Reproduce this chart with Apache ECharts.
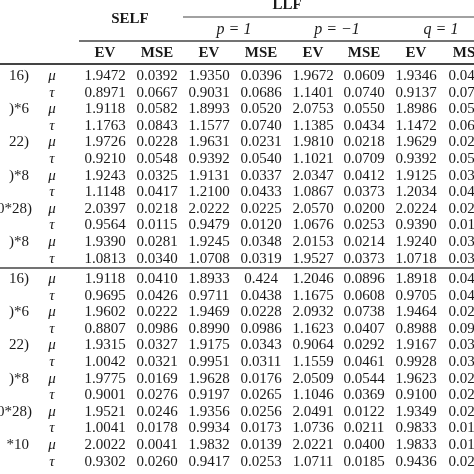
<!DOCTYPE html>
<html>
<head>
<meta charset="utf-8">
<script src="https://cdn.jsdelivr.net/npm/echarts@6/dist/echarts.min.js"></script>
<style>html,body{margin:0;padding:0;background:#fff}#chart{width:474px;height:474px}</style>
</head>
<body>
<div id="chart"></div>
<script>
// 数据
var schemes = ['16)', ')*6', '22)', ')*8', '1.0*28)', ')*8',
               '16)', ')*6', '22)', ')*8', '1.0*28)', '*10'];
var params = ['μ', 'τ'];
var colHeads = ['EV', 'MSE', 'EV', 'MSE', 'EV', 'MSE', 'EV', 'MSE'];
var lossHeads = ['p = 1', 'p = −1', 'q = 1'];
var selfEV = ['1.9472','0.8971','1.9118','1.1763','1.9726','0.9210','1.9243','1.1148','2.0397','0.9564','1.9390','1.0813',
              '1.9118','0.9695','1.9602','0.8807','1.9315','1.0042','1.9775','0.9001','1.9521','1.0041','2.0022','0.9302'];
var selfMSE = ['0.0392','0.0667','0.0582','0.0843','0.0228','0.0548','0.0325','0.0417','0.0218','0.0115','0.0281','0.0340',
               '0.0410','0.0426','0.0222','0.0986','0.0327','0.0321','0.0169','0.0276','0.0246','0.0178','0.0041','0.0260'];
var p1EV = ['1.9350','0.9031','1.8993','1.1577','1.9631','0.9392','1.9131','1.2100','2.0222','0.9479','1.9245','1.0708',
            '1.8933','0.9711','1.9469','0.8990','1.9175','0.9951','1.9628','0.9197','1.9356','0.9934','1.9832','0.9417'];
var p1MSE = ['0.0396','0.0686','0.0520','0.0740','0.0231','0.0540','0.0337','0.0433','0.0225','0.0120','0.0348','0.0319',
             '0.424','0.0438','0.0228','0.0986','0.0343','0.0311','0.0176','0.0265','0.0256','0.0173','0.0139','0.0253'];
var pm1EV = ['1.9672','1.1401','2.0753','1.1385','1.9810','1.1021','2.0347','1.0867','2.0570','1.0676','2.0153','1.9527',
             '1.2046','1.1675','2.0932','1.1623','0.9064','1.1559','2.0509','1.1046','2.0491','1.0736','2.0221','1.0711'];
var pm1MSE = ['0.0609','0.0740','0.0550','0.0434','0.0218','0.0709','0.0412','0.0373','0.0200','0.0253','0.0214','0.0373',
              '0.0896','0.0608','0.0738','0.0407','0.0292','0.0461','0.0544','0.0369','0.0122','0.0211','0.0400','0.0185'];
var q1EV = ['1.9346','0.9137','1.8986','1.1472','1.9629','0.9392','1.9125','1.2034','2.0224','0.9390','1.9240','1.0718',
            '1.8918','0.9705','1.9464','0.8988','1.9167','0.9928','1.9623','0.9100','1.9349','0.9833','1.9833','0.9436'];
var q1MSE = ['0.0406','0.0712','0.0540','0.0640','0.0232','0.0545','0.0340','0.0440','0.0226','0.0118','0.0348','0.0320',
             '0.0440','0.0443','0.0229','0.0990','0.0345','0.0312','0.0217','0.0264','0.0257','0.0174','0.0140','0.0254'];

var cols = [selfEV, selfMSE, p1EV, p1MSE, pm1EV, pm1MSE, q1EV, q1MSE];
var colX = [105, 157, 209, 261, 313, 364, 416, 469];
var font = '"Liberation Serif", serif';
var lineColor = '#444';

function txt(x, y, s, opt) {
	opt = opt || {};
	return {
		type: 'text', x: x, y: y,
		style: {
			text: s, fill: '#1a1a1a', font: (opt.bold ? 'bold ' : '') + (opt.italic ? 'italic ' : '') + (opt.size || 15) + 'px ' + font,
			textAlign: opt.align || 'center', textVerticalAlign: 'middle'
		}
	};
}
function hline(x1, x2, y, w) {
	return { type: 'line', shape: { x1: x1, y1: y, x2: x2, y2: y }, style: { stroke: lineColor, lineWidth: w } };
}

var els = [];
els.push(txt(130, 19, 'SELF', { bold: true }));
els.push(txt(287, 5, 'LLF', { bold: true }));
els.push(hline(183, 474, 17, 1.2));
var lossX = [234, 337, 441];
for (var i = 0; i < lossHeads.length; i++) {
	els.push(txt(lossX[i], 30, lossHeads[i], { italic: true, size: 16 }));
}
els.push(hline(79, 474, 41, 1.5));
for (var i = 0; i < colHeads.length; i++) {
	els.push(txt(colX[i], 53, colHeads[i], { bold: true }));
}
els.push(hline(0, 474, 64, 2));
els.push(hline(0, 474, 268, 1.5));

for (var r = 0; r < 24; r++) {
	var y = r < 12 ? 76 + r * 16.6 : 279 + (r - 12) * 16.6;
	if (r % 2 === 0) {
		els.push(txt(r / 2 % 6 === 4 ? 32 : 29, y, schemes[r / 2], { align: 'right' }));
	}
	els.push(txt(52, y, params[r % 2], { italic: true }));
	for (var c = 0; c < cols.length; c++) {
		els.push(txt(colX[c], y, cols[c][r]));
	}
}

var myChart = echarts.init(document.getElementById('chart'));
myChart.setOption({
	backgroundColor: '#fff',
	graphic: { elements: els }
});
</script>
</body>
</html>
